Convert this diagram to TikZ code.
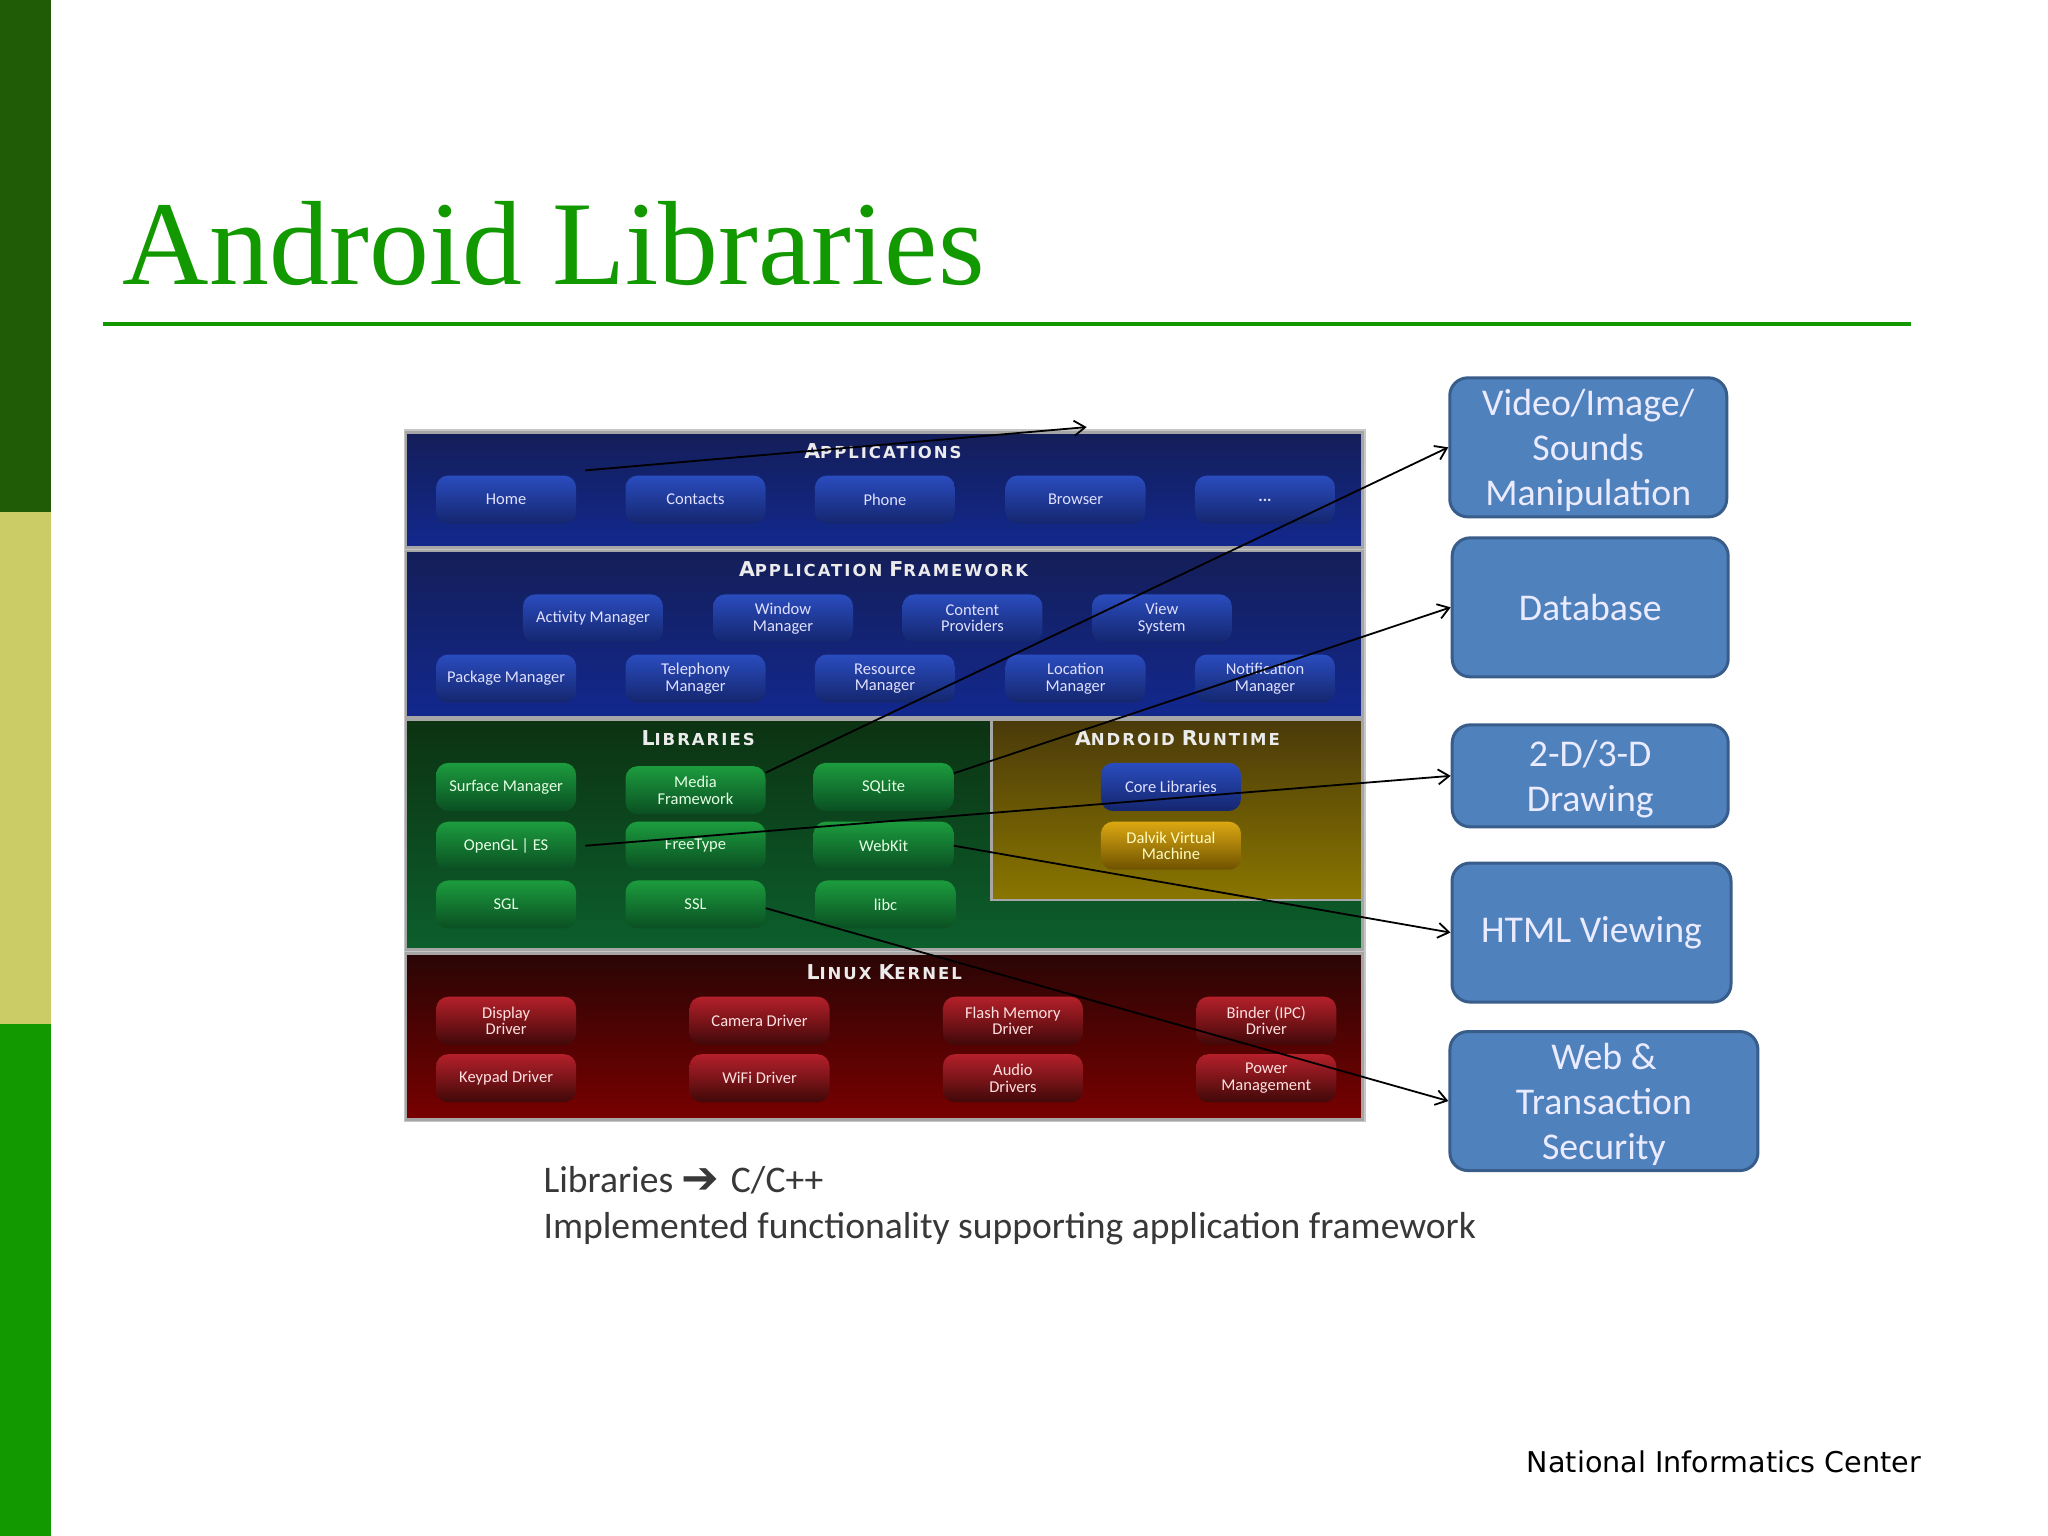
\documentclass[tikz,border=0pt]{standalone}
\usepackage{fontspec}
\usetikzlibrary{arrows.meta}
\setmainfont{Liberation Serif}
\newfontfamily\gill{Carlito}
\newfontfamily\verd{DejaVu Sans}
\newfontfamily\wide[LetterSpace=12]{DejaVu Sans Bold}
\newcommand{\hd}[2]{{\fontsize{20.5}{24}\selectfont #1}{\fontsize{16.5}{24}\selectfont #2}}
\definecolor{sideA}{HTML}{1F5C05}
\definecolor{sideB}{HTML}{CCCC66}
\definecolor{sideC}{HTML}{129900}
\definecolor{boxfill}{HTML}{4F81BD}
\definecolor{boxline}{HTML}{385D8A}
\definecolor{bpT}{HTML}{141E58}
\definecolor{bpB}{HTML}{12288E}
\definecolor{gpT}{HTML}{0C3212}
\definecolor{gpB}{HTML}{0C5F2C}
\definecolor{ypT}{HTML}{4A3A0A}
\definecolor{ypB}{HTML}{8A7600}
\definecolor{rpT}{HTML}{2A0505}
\definecolor{rpB}{HTML}{780000}
\definecolor{bbT}{HTML}{2A4CBE}
\definecolor{bbM}{HTML}{1F3CA6}
\definecolor{bbB}{HTML}{14266E}
\definecolor{gbT}{HTML}{1C9C3E}
\definecolor{gbM}{HTML}{12823A}
\definecolor{gbB}{HTML}{0A4F22}
\definecolor{rbT}{HTML}{B4202A}
\definecolor{rbM}{HTML}{8E1A20}
\definecolor{rbB}{HTML}{400808}
\definecolor{ybT}{HTML}{DCA812}
\definecolor{ybM}{HTML}{B88C08}
\definecolor{ybB}{HTML}{6E5200}
\tikzset{
  btn/.style={rounded corners=12pt,minimum width=140pt,minimum height=48pt,inner sep=0pt,align=center,
     font=\gill\fontsize{16.5}{16.5}\selectfont},
  bluebtn/.style={btn,text=blue!12!white,top color=bbT,middle color=bbM,bottom color=bbB},
  greenbtn/.style={btn,text=green!10!white,top color=gbT,middle color=gbM,bottom color=gbB},
  redbtn/.style={btn,text=red!12!white,top color=rbT,middle color=rbM,bottom color=rbB},
  yellowbtn/.style={btn,text=yellow!25!white,top color=ybT,middle color=ybM,bottom color=ybB},
  panel/.style={draw=gray!70!white,line width=2.5pt},
  ptitle/.style={text=white!92!black,font=\wide,inner sep=0pt},
  sidebox/.style={draw=boxline,line width=3pt,fill=boxfill,rounded corners=18pt,inner sep=0pt,align=center,text=white!92!blue,
     font=\gill\fontsize{37.8}{45}\selectfont},
  arr/.style={draw=black,line width=1.8pt,-{Straight Barb[length=11pt,width=15pt,line width=1.8pt]}}
}
\begin{document}
\begin{tikzpicture}[x=1.30612pt,y=-1.30612pt]
\useasboundingbox (0,0) rectangle (1568,1176);
\fill[white] (0,0) rectangle (1568,1176);
% sidebar
\fill[sideA] (0,0) rectangle (39,392);
\fill[sideB] (0,392) rectangle (39,784);
\fill[sideC] (0,784) rectangle (39,1176);
% title
\node[anchor=base west,inner sep=0pt,text=sideC,font=\fontsize{119.8}{120}\selectfont] (title) at (94,218) {Android Libraries};
\fill[sideC] (79,246.5) rectangle (1463,249.5);
% stack image
\fill[gray!45!white] (309,328.5) rectangle (1046,859);
\path[panel,top color=bpT,bottom color=bpB] (311,331) rectangle (1043,419);
\path[panel,top color=bpT,bottom color=bpB] (311,422) rectangle (1043,549);
\path[panel,top color=gpT,bottom color=gpB] (311,551) rectangle (1043,727);
\path[panel,top color=ypT,bottom color=ypB] (759,551) rectangle (1043,689);
\path[panel,top color=rpT,bottom color=rpB] (311,730) rectangle (1043,857);
% titles
\node[ptitle] (tapps) at (676,345.5) {\hd{A}{PPLICATIONS}};
\node[ptitle] (tfw) at (676.5,436) {\hd{A}{PPLICATION}\hspace{7pt}\hd{F}{RAMEWORK}};
\node[ptitle] (tlib) at (534.5,565.5) {\hd{L}{IBRARIES}};
\node[ptitle] (trt) at (901.5,565.5) {\hd{A}{NDROID}\hspace{7pt}\hd{R}{UNTIME}};
\node[ptitle] (tker) at (677,744.5) {\hd{L}{INUX}\hspace{7pt}\hd{K}{ERNEL}};
% applications
\node[bluebtn] (home) at (387.5,382.5) {Home};
\node[bluebtn] (contacts) at (532.5,382.5) {Contacts};
\node[bluebtn] (phone) at (677.5,382.5) {Phone};
\node[bluebtn] (browser) at (823.5,382.5) {Browser};
\node[bluebtn] (more) at (968.5,382.5) {\bfseries\raisebox{-4pt}{...}};
% framework
\node[bluebtn] (activity) at (454,473.5) {Activity Manager};
\node[bluebtn] (window) at (599.5,473.5) {Window\\Manager};
\node[bluebtn] (content) at (744.5,473.5) {Content\\Providers};
\node[bluebtn] (viewsys) at (889.5,473.5) {View\\System};
\node[bluebtn] (package) at (387.5,519.5) {Package Manager};
\node[bluebtn] (telephony) at (532.5,519.5) {Telephony\\Manager};
\node[bluebtn] (resource) at (677.5,519.5) {Resource\\Manager};
\node[bluebtn] (location) at (823.5,519.5) {Location\\Manager};
\node[bluebtn] (notify) at (968.5,519.5) {Notification\\Manager};
% libraries
\node[greenbtn] (surface) at (387.5,602.5) {Surface Manager};
\node[greenbtn] (media) at (532.5,605) {Media\\Framework};
\node[greenbtn] (sqlite) at (676.5,602.5) {SQLite};
\node[greenbtn] (opengl) at (387.5,647.5) {OpenGL | ES};
\node[greenbtn] (freetype) at (532.5,647.5) {FreeType};
\node[greenbtn] (webkit) at (676.5,647.5) {WebKit};
\node[greenbtn] (sgl) at (387.5,692.5) {SGL};
\node[greenbtn] (ssl) at (532.5,692.5) {SSL};
\node[greenbtn] (libc) at (678,692.5) {libc};
% runtime
\node[bluebtn] (core) at (896.5,602.5) {Core Libraries};
\node[yellowbtn] (dalvik) at (896.5,647.5) {Dalvik Virtual\\Machine};
% kernel
\node[redbtn] (display) at (387.5,781.5) {Display\\Driver};
\node[redbtn] (camera) at (581.5,781.5) {Camera Driver};
\node[redbtn] (flash) at (775.5,781.5) {Flash Memory\\Driver};
\node[redbtn] (binder) at (969.5,781.5) {Binder (IPC)\\Driver};
\node[redbtn] (keypad) at (387.5,825.5) {Keypad Driver};
\node[redbtn] (wifi) at (581.5,825.5) {WiFi Driver};
\node[redbtn] (audio) at (775.5,825.5) {Audio\\Drivers};
\node[redbtn] (power) at (969.5,825.5) {Power\\Management};
% side boxes
\node[sidebox,minimum width=277pt,minimum height=139pt] (video) at (1216,342.5) {\rule{0pt}{32pt}Video/Image/\\Sounds\\Manipulation};
\node[sidebox,minimum width=276pt,minimum height=139pt] (database) at (1217.5,465) {Database};
\node[sidebox,minimum width=276pt,minimum height=102pt] (drawing) at (1217.5,594) {\rule{0pt}{32pt}2-D/3-D\\Drawing};
\node[sidebox,minimum width=279pt,minimum height=139pt] (html) at (1218.5,714) {\raisebox{-3pt}{HTML Viewing}};
\node[sidebox,minimum width=308pt,minimum height=139pt] (websec) at (1228,843) {\rule{0pt}{32pt}Web \&\\Transaction\\Security};
% connectors
\coordinate (appsend) at (832,327);
\draw[arr] ([xshift=9pt,yshift=5pt]home.north east) -- (appsend);
\draw[arr] (media.14) -- (video.west);
\draw[arr] (sqlite.11) -- (database.west);
\draw[arr] ([xshift=9pt]opengl.east) -- (drawing.west);
\draw[arr] (webkit.east) -- (html.west);
\draw[arr] (ssl.-3) -- (websec.west);
% caption
\node[anchor=base west,inner sep=0pt,text=black!78,font=\gill\fontsize{37.6}{46}\selectfont,align=left] (caption) at (416,913) {Libraries {\verd\fontsize{45}{45}\selectfont\bfseries\raisebox{-1pt}{➔}}\hspace{3pt} C/C++};
\node[anchor=base west,inner sep=0pt,text=black!78,font=\gill\fontsize{37.6}{46}\selectfont] (caption2) at (416,948) {Implemented functionality supporting application framework};
% footer
\node[anchor=base east,inner sep=0pt,text=black,font=\verd\fontsize{28.6}{29}\selectfont] (footer) at (1471,1127) {National Informatics Center};
\end{tikzpicture}
\end{document}
